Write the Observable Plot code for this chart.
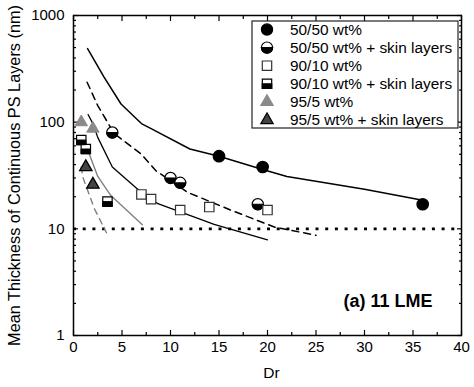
<!DOCTYPE html>
<html><head><meta charset="utf-8">
<script src="https://cdn.jsdelivr.net/npm/d3@7"></script>
<script src="https://cdn.jsdelivr.net/npm/@observablehq/plot@0.6"></script>
<style>body{margin:0;background:#fff}</style>
</head><body><div id="chart"></div>
<script>
// ---- tick labels ----
const xTicks = [0, 5, 10, 15, 20, 25, 30, 35, 40];
const yTicks = [1, 10, 100, 1000];
const xLabel = "Dr";
const yLabel = "Mean Thickness of Continuous PS Layers (nm)";
const panelLabel = "(a) 11 LME";
const seriesNames = ["50/50 wt%", "50/50 wt% + skin layers", "90/10 wt%", "90/10 wt% + skin layers", "95/5 wt%", "95/5 wt% + skin layers"];

// ---- measured points ----
const s5050_x = [15, 19.5, 36];
const s5050_y = [48, 38, 17];
const s5050skin_x = [4, 10, 11, 19];
const s5050skin_y = [80, 30, 27, 17];
const s9010_x = [7, 8, 11, 14, 20];
const s9010_y = [21, 19, 15, 16, 15];
const s9010skin_x = [0.8, 1.27, 3.5];
const s9010skin_y = [68, 56, 18];
const s955_x = [0.8, 2.0];
const s955_y = [100, 87];
const s955skin_x = [1.27, 2.0];
const s955skin_y = [38, 26];

// ---- fitted curves ----
const fitA_x = [1.45, 3.15, 4.9, 7, 8, 12, 15, 19.5, 22, 30, 36];
const fitA_y = [490, 264, 148, 97, 87, 56, 48, 36, 31, 23.5, 18.5];
const fitB_x = [1.4, 2.5, 4.2, 7, 8.5, 11.75, 16.2, 20.7, 25];
const fitB_y = [237, 143, 78, 50, 35, 22, 15, 10.4, 8.7];
const fitC_x = [1.5, 2.0, 2.5, 4.0, 6.5, 8.7, 14.5, 20];
const fitC_y = [118, 97, 72, 38, 24, 17.2, 11, 7.9];
const fitD_x = [1.1, 1.5, 2.5, 3.85, 7.1];
const fitD_y = [68, 54, 31, 20.5, 10.9];
const fitE_x = [0.8, 0.96, 2.16, 3.4];
const fitE_y = [38, 30.5, 15.4, 9.2];
const thresholdY = [10];

const zip = (xs, ys) => xs.map((x, i) => ({x, y: ys[i]}));

const lowerHalfCircle = {draw(ctx, size) {
  const r = Math.sqrt(size / Math.PI);
  ctx.moveTo(r, 0); ctx.arc(0, 0, r, 0, Math.PI); ctx.closePath();
}};
const lowerHalfSquare = {draw(ctx, size) {
  const s = Math.sqrt(size) / 2;
  ctx.moveTo(-s, 0); ctx.lineTo(s, 0); ctx.lineTo(s, s); ctx.lineTo(-s, s); ctx.closePath();
}};

const minorX = d3.range(2.5, 40, 5);
const minorY = [1, 10, 100].flatMap(d => d3.range(2, 10).map(k => d * k));

const rC = 5.6, rS = 5.3, rT = 4.6;

const svg = Plot.plot({
  width: 474, height: 387,
  marginLeft: 73, marginRight: 13, marginTop: 15, marginBottom: 52,
  style: {fontFamily: "'Liberation Sans', Arial, sans-serif", fontSize: "15px", color: "black", background: "white"},
  x: {domain: [0, 40]},
  y: {type: "log", domain: [1, 1000]},
  marks: [
    // axes
    Plot.axisX(xTicks, {anchor: "bottom", tickSize: 0, tickPadding: 6, label: null, tickFormat: d => String(d)}),
    Plot.axisX(xTicks, {anchor: "bottom", tickSize: -5, text: null, label: null, strokeWidth: 1.2}),
    Plot.axisX(minorX, {anchor: "bottom", tickSize: -3, text: null, label: null, strokeWidth: 1.2}),
    Plot.axisX(xTicks, {anchor: "top", tickSize: -5, text: null, label: null, strokeWidth: 1.2}),
    Plot.axisX(minorX, {anchor: "top", tickSize: -3, text: null, label: null, strokeWidth: 1.2}),
    Plot.axisY(yTicks, {anchor: "left", tickSize: 0, tickPadding: 9, label: null, tickFormat: d => String(d)}),
    Plot.axisY(yTicks, {anchor: "left", tickSize: -5, text: null, label: null, strokeWidth: 1.2}),
    Plot.axisY(minorY, {anchor: "left", tickSize: -3, text: null, label: null, strokeWidth: 1.2}),
    Plot.axisY(yTicks, {anchor: "right", tickSize: -5, text: null, label: null, strokeWidth: 1.2}),
    Plot.axisY(minorY, {anchor: "right", tickSize: -3, text: null, label: null, strokeWidth: 1.2}),
    Plot.frame({stroke: "black", strokeWidth: 1.5}),
    Plot.text([yLabel], {frameAnchor: "left", textAnchor: "middle", lineAnchor: "middle", dx: -59, rotate: -90, fontSize: 16.3}),
    Plot.text([xLabel], {frameAnchor: "bottom", dx: 4, dy: 42, fontSize: 15.5}),
    Plot.text([panelLabel], {frameAnchor: "bottom-right", textAnchor: "end", dx: -29, dy: -29, fontSize: 18, fontWeight: "bold"}),
    // threshold
    Plot.ruleY(thresholdY, {stroke: "black", strokeWidth: 2.6, strokeDasharray: "3,6.7"}),
    // fits
    Plot.line(zip(fitA_x, fitA_y), {x: "x", y: "y", stroke: "black", strokeWidth: 1.5}),
    Plot.line(zip(fitB_x, fitB_y), {x: "x", y: "y", stroke: "black", strokeWidth: 1.5, strokeDasharray: "7,5"}),
    Plot.line(zip(fitC_x, fitC_y), {x: "x", y: "y", stroke: "black", strokeWidth: 1.3}),
    Plot.line(zip(fitD_x, fitD_y), {x: "x", y: "y", stroke: "#808080", strokeWidth: 1.4}),
    Plot.line(zip(fitE_x, fitE_y), {x: "x", y: "y", stroke: "#808080", strokeWidth: 1.4, strokeDasharray: "6,5"}),
    // points
    Plot.dot(zip(s5050_x, s5050_y), {x: "x", y: "y", r: rC, fill: "black", stroke: "black"}),
    Plot.dot(zip(s5050skin_x, s5050skin_y), {x: "x", y: "y", r: rC, fill: "white", stroke: "black", strokeWidth: 1.2}),
    Plot.dot(zip(s5050skin_x, s5050skin_y), {x: "x", y: "y", r: rC, symbol: lowerHalfCircle, fill: "black", stroke: "black", strokeWidth: 1}),
    Plot.dot(zip(s9010_x, s9010_y), {x: "x", y: "y", r: rS, symbol: "square", fill: "white", stroke: "#333", strokeWidth: 1.2}),
    Plot.dot(zip(s9010skin_x, s9010skin_y), {x: "x", y: "y", r: rS, symbol: "square", fill: "white", stroke: "black", strokeWidth: 1.2}),
    Plot.dot(zip(s9010skin_x, s9010skin_y), {x: "x", y: "y", r: rS, symbol: lowerHalfSquare, fill: "black", stroke: "black", strokeWidth: 1}),
    Plot.dot(zip(s955_x, s955_y), {x: "x", y: "y", r: rT, symbol: "triangle", fill: "#8a8a8a", stroke: "#8a8a8a", strokeWidth: 1}),
    Plot.dot(zip(s955skin_x, s955skin_y), {x: "x", y: "y", r: rT, symbol: "triangle", fill: "#444", stroke: "black", strokeWidth: 1.3})
  ]
});

// ---- legend ----
const g = d3.select(svg).append("g")
  .attr("font-family", "'Liberation Sans', Arial, sans-serif")
  .attr("font-size", 15.4).attr("text-anchor", "start");
g.append("rect").attr("x", 252).attr("y", 21).attr("width", 206).attr("height", 107)
  .attr("fill", "white").attr("stroke", "#222").attr("stroke-width", 1.2);
const legSym = [
  [{type: d3.symbolCircle, r: rC, fill: "black", stroke: "black"}],
  [{type: d3.symbolCircle, r: rC, fill: "white", stroke: "black"}, {type: lowerHalfCircle, r: rC, fill: "black", stroke: "black"}],
  [{type: d3.symbolSquare, r: rS, fill: "white", stroke: "#333"}],
  [{type: d3.symbolSquare, r: rS, fill: "white", stroke: "black"}, {type: lowerHalfSquare, r: rS, fill: "black", stroke: "black"}],
  [{type: d3.symbolTriangle, r: rT, fill: "#8a8a8a", stroke: "#8a8a8a"}],
  [{type: d3.symbolTriangle, r: rT, fill: "#444", stroke: "black"}]
];
seriesNames.forEach((name, i) => {
  const cy = 29.5 + i * 18.1;
  legSym[i].forEach(s => {
    g.append("path").attr("transform", `translate(267,${cy})`)
      .attr("d", d3.symbol(s.type, Math.PI * s.r * s.r)())
      .attr("fill", s.fill).attr("stroke", s.stroke).attr("stroke-width", 1.2);
  });
  g.append("text").attr("x", 290).attr("y", cy).attr("dy", "0.35em").attr("text-anchor", "start").text(name);
});

document.getElementById("chart").appendChild(svg);
</script>
</body></html>
